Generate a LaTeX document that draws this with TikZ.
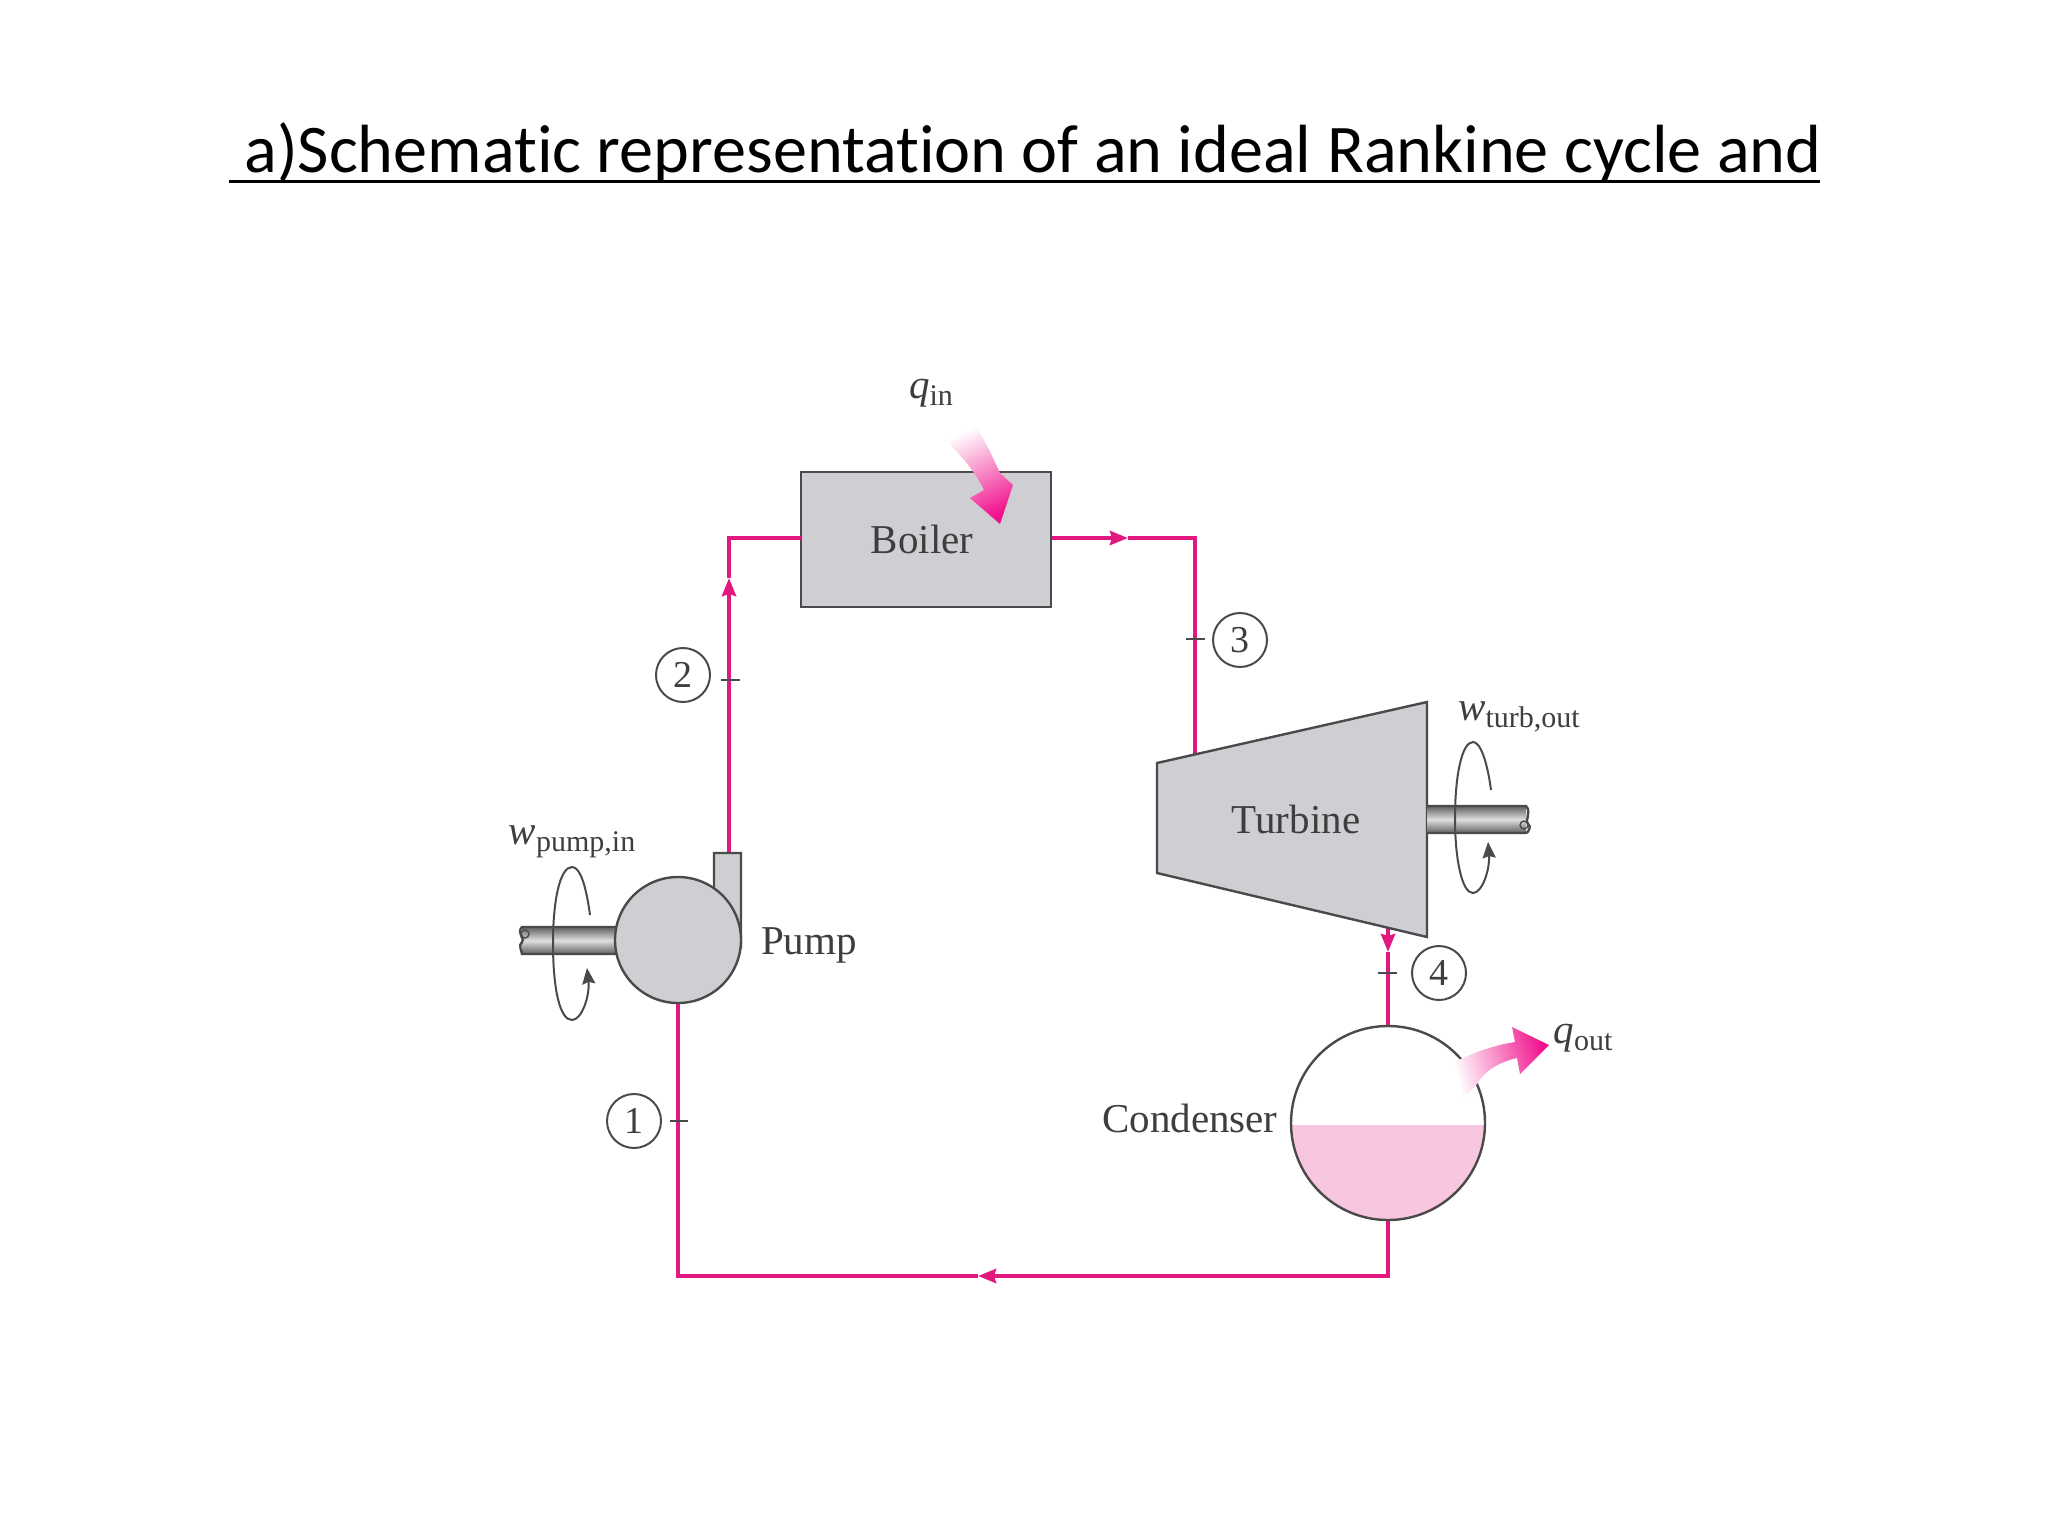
\documentclass[tikz,border=0pt]{standalone}
\usepackage{fontspec}
\setmainfont{Liberation Serif}
\newfontfamily\titlefont[Ligatures=NoCommon]{Carlito}
\usetikzlibrary{arrows.meta,calc}
\definecolor{pipec}{HTML}{E0187F}
\definecolor{bodyc}{HTML}{CFCED2}
\definecolor{edgec}{HTML}{4A4A4A}
\definecolor{liquidc}{HTML}{F9C6E0}
\definecolor{heatc}{HTML}{F0108C}
\definecolor{textc}{HTML}{3E3E3E}
\newcommand{\sublabel}[2]{{\fontsize{20.5pt}{22pt}\selectfont\itshape #1}\raisebox{-3.5pt}{\fontsize{15pt}{16pt}\selectfont #2}}
\tikzset{
  pipe/.style={draw=pipec,line width=2pt,line join=miter},
  pipetip/.style={pipe,-{Stealth[length=9pt,width=7pt,inset=1pt]}},
  equip/.style={draw=edgec,line width=1.2pt,fill=bodyc},
  state/.style={circle,draw=edgec,line width=1pt,minimum size=27pt,inner sep=0pt,text=textc,font=\fontsize{19pt}{20pt}\selectfont},
  tick/.style={draw=edgec,line width=1pt},
  lab/.style={text=textc,font=\fontsize{20.5pt}{22pt}\selectfont,inner sep=0pt},
  loopline/.style={draw=edgec,line width=1pt},
  looptip/.style={-{Stealth[length=8pt,width=6.5pt,inset=1pt]}},
  shaftbody/.style={top color=gray!75!black,bottom color=gray!75!black,middle color=gray!25},
  shaftedge/.style={draw=edgec,line width=1.2pt}
}
\begin{document}
\begin{tikzpicture}[x=0.5pt,y=-0.5pt]
\useasboundingbox (0,0) rectangle (2048,1536);
\fill[white] (0,0) rectangle (2048,1536);

% title
\node[anchor=base west,inner sep=0pt,font=\fontsize{34.1pt}{36pt}\titlefont] (title) at (244,172) {a)Schematic representation of an ideal Rankine cycle and};
\coordinate (ula) at (229,181.5);
\coordinate (ulb) at (1820,181.5);
\draw[black,line width=1.5pt] (ula) -- (ulb);

% anchors
\coordinate (bw) at (801,538);
\coordinate (c23) at (1195,538);
\coordinate (tin) at (1195,760);
\coordinate (tA) at (1157,763);
\coordinate (tB) at (1427,702);
\coordinate (tC) at (1427,937);
\coordinate (tD) at (1157,873);
\coordinate (tout) at (1388,925);
\coordinate (ccw) at (1388,1123);
\coordinate (c41) at (1388,1276);
\coordinate (c12) at (678,1276);
\coordinate (pout) at (729,853);
\coordinate (c2b) at (729,538);

% pipes
\node[equip,minimum width=125pt,minimum height=67.5pt,inner sep=0pt] (boiler) at (926,539.5) {};
\coordinate (a1) at (1128,538);
\draw[pipetip] (boiler.east |- a1) -- (a1);
\draw[pipe] (a1) -- (c23) -- (tin);
\coordinate (a2) at (1388,952);
\draw[pipetip] (tout) -- (a2);
\node[circle,minimum size=97pt,inner sep=0pt] (condenser) at (1388,1123) {};
\draw[pipe] (a2) -- (condenser.north);
\coordinate (a3) at (978,1276);
\draw[pipetip] (condenser.south) -- (c41) -- (a3);
\node[circle,minimum size=63pt,inner sep=0pt] (pump) at (678,940) {};
\draw[pipe] (a3) -- (c12) -- (pump.south);
\coordinate (a4) at (729,578);
\draw[pipetip] (pout) -- (a4);
\draw[pipe] (a4) -- (c2b) -- (bw);

% boiler text
\node[lab] (boilerl) at (922,539) {Boiler};

% heat in
\shade[top color=white,middle color=heatc!45,bottom color=heatc,shading angle=25]
  (943,438) -- (975,425) .. controls (985,440) and (993,458) .. (1000,473)
  -- (1013,485) -- (1000,524) -- (970,498) -- (984,490)
  .. controls (973,468) and (958,452) .. (943,438) -- cycle;
\node[text=textc,inner sep=0pt] (qin) at (931,393) {\sublabel{q}{in}};

% turbine
\filldraw[equip,line join=miter] (tA) -- (tB) -- (tC) -- (tD) -- cycle;
\node[lab] (turbinel) at (1296,819) {Turbine};
\coordinate (tsa) at (1427,806);
\coordinate (tsb) at (1526,833);
\shade[shaftbody] (tsa) rectangle (tsb);
\draw[shaftedge] (tsa) -- (tsb |- tsa) .. controls (1532,812) and (1524,822) .. (1528,824) .. controls (1532,826) and (1528,833) .. (tsb) -- (tsa |- tsb);
\draw[edgec,line width=0.7pt] (1524,825) circle[radius=4];
\draw[loopline,looptip] (1491,790) .. controls (1487,760) and (1480,742) .. (1473,742)
  .. controls (1462,742) and (1455,775) .. (1455,818) .. controls (1455,860) and (1462,893) .. (1473,893)
  .. controls (1482,893) and (1490,870) .. (1488,842);
\node[text=textc,inner sep=0pt] (wturb) at (1519,717) {\sublabel{w}{turb,out}};

% condenser
\begin{scope}
  \clip (ccw) circle[radius=97];
  \fill[liquidc] (1280,1125) rectangle (1495,1230);
\end{scope}
\draw[edgec,line width=1.2pt] (condenser) circle[radius=97];
\node[lab,anchor=east] (condl) at (1278,1118) {Condenser};
\shade[left color=white,middle color=heatc!50,right color=heatc,shading angle=105]
  (1462,1100) -- (1452,1063) .. controls (1475,1052) and (1495,1045) .. (1515,1042)
  -- (1512,1027) -- (1549,1045) -- (1520,1074) -- (1517,1058)
  .. controls (1500,1062) and (1485,1070) .. (1477,1084) -- cycle;
\node[text=textc,inner sep=0pt] (qout) at (1583,1038) {\sublabel{q}{out}};

% pump
\coordinate (psa) at (522,927);
\coordinate (psb) at (617,954);
\shade[shaftbody] (psa) rectangle (psb);
\draw[shaftedge] (psb |- psa) -- (psa) .. controls (516,933) and (526,940) .. (522,942) .. controls (518,945) and (522,952) .. (psa |- psb) -- (psb);
\draw[edgec,line width=0.7pt] (525,934) circle[radius=4];
\filldraw[equip,line join=miter] (714,900) -- (714,853) -- (741,853) -- (741,945) -- cycle;
\filldraw[equip] (pump) circle[radius=63];
\draw[loopline,looptip] (590,915) .. controls (586,885) and (580,867) .. (572,867)
  .. controls (560,867) and (553,900) .. (553,943) .. controls (553,990) and (560,1020) .. (572,1020)
  .. controls (582,1020) and (590,995) .. (587,968);
\node[lab] (pumpl) at (809,945) {Pump};
\node[text=textc,inner sep=0pt] (wpump) at (572,842) {\sublabel{w}{pump,in}};

% states
\node[state] (n1) at (634,1121) {1};
\node[state] (n2) at (683,675) {2};
\node[state] (n3) at (1240,640) {3};
\node[state] (n4) at (1439,973) {4};
\coordinate (t1) at (688,1121);
\coordinate (t2) at (740,680);
\coordinate (t3) at (1186,639);
\coordinate (t4) at (1378,973);
\draw[tick] (670,1121) -- (t1);
\draw[tick] (721,680) -- (t2);
\draw[tick] (t3) -- (1205,639);
\draw[tick] (t4) -- (1397,973);
\end{tikzpicture}
\end{document}
